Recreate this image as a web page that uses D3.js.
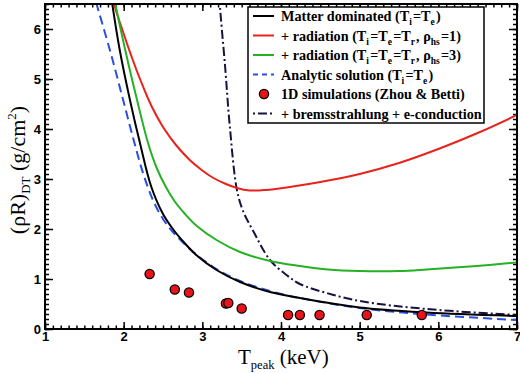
<!DOCTYPE html>
<html>
<head>
<meta charset="utf-8">
<script src="https://cdn.jsdelivr.net/npm/d3@7"></script>
<style>
  body { margin: 0; background: #fff; }
  svg { display: block; font-family: 'Liberation Serif', 'Times New Roman', serif; }
  .axis text { font-size: 13px; font-weight: bold; fill: #000; }
  .axis path { display: none; }
  .axis line { stroke: #000; stroke-width: 1.5; }
  .legend text { font-size: 14.2px; font-weight: bold; }
</style>
</head>
<body>
<svg id="chart"></svg>
<script>
// values: [T_peak (keV), rhoR (g/cm^2)]
const matterDominated = [[1.80, 7.1], [1.85, 6.55], [1.95, 5.58], [2.08, 4.58], [2.21, 3.7], [2.35, 2.85],
  [2.5, 2.3], [2.64, 1.97], [2.78, 1.71], [2.93, 1.47], [3.18, 1.18], [3.48, 0.94], [3.86, 0.74],
  [4.24, 0.62], [5.0, 0.43], [5.85, 0.33], [7.0, 0.26]];
const radiationHs1 = [[1.84, 6.9], [1.87, 6.55], [1.98, 6.0], [2.1, 5.45], [2.22, 4.95], [2.35, 4.47],
  [2.5, 4.04], [2.67, 3.67], [2.84, 3.38], [3.0, 3.17], [3.13, 3.03], [3.3, 2.9], [3.44, 2.82],
  [3.6, 2.77], [3.8, 2.78], [4.15, 2.85], [4.5, 2.94], [5.0, 3.1], [5.5, 3.32], [6.0, 3.6],
  [6.5, 3.92], [7.0, 4.28]];
const radiationHs3 = [[1.85, 7.0], [1.89, 6.55], [2.02, 5.58], [2.17, 4.58], [2.31, 3.72], [2.42, 3.22],
  [2.53, 2.86], [2.65, 2.55], [2.78, 2.3], [2.93, 2.06], [3.18, 1.78], [3.48, 1.54], [3.86, 1.36],
  [4.24, 1.26], [4.6, 1.19], [5.0, 1.16], [5.5, 1.16], [5.85, 1.19], [6.4, 1.25], [7.0, 1.33]];
const analytic = [[1.60, 6.8], [1.64, 6.58], [1.83, 5.55], [1.99, 4.6], [2.12, 3.82], [2.25, 3.1],
  [2.38, 2.55], [2.5, 2.2], [2.62, 1.95], [2.76, 1.72], [2.93, 1.48], [3.18, 1.2], [3.48, 0.96],
  [3.86, 0.76], [4.24, 0.62], [5.0, 0.42], [5.85, 0.29], [7.0, 0.18]];
const bremsConduction = [[3.21, 7.0], [3.22, 6.55], [3.29, 5.24], [3.35, 4.04], [3.44, 2.78], [3.52, 2.35],
  [3.64, 1.98], [3.86, 1.38], [4.07, 1.08], [4.24, 0.9], [4.58, 0.72], [5.0, 0.56], [5.85, 0.4], [7.0, 0.28]];
const simulations = [[2.33, 1.10], [2.65, 0.79], [2.83, 0.73], [3.30, 0.51], [3.33, 0.52], [3.50, 0.41],
  [4.09, 0.28], [4.24, 0.28], [4.49, 0.28], [5.09, 0.28], [5.79, 0.28]];

const xTicks = [1, 2, 3, 4, 5, 6, 7];
const yTicks = [0, 1, 2, 3, 4, 5, 6];

const W = 520, H = 373;
const margin = { top: 4, right: 3, bottom: 44, left: 45 };

const svg = d3.select('#chart').attr('width', W).attr('height', H);

const x = d3.scaleLinear().domain([1, 7]).range([margin.left, W - margin.right]);
const y = d3.scaleLinear().domain([0, 6.5]).range([H - margin.bottom, margin.top]);

const minorX = d3.range(1, 7.001, 0.1);
const minorY = d3.range(0, 6.501, 0.1);

// clip
svg.append('clipPath').attr('id', 'plot-clip')
  .append('rect')
  .attr('x', x(1)).attr('y', y(6.5))
  .attr('width', x(7) - x(1)).attr('height', y(0) - y(6.5));

// axes (ticks point inward on all four sides)
const addAxis = (axis, tx, ty) => svg.append('g')
  .attr('class', 'axis')
  .attr('transform', `translate(${tx},${ty})`)
  .call(axis);

addAxis(d3.axisBottom(x).tickValues(minorX).tickSize(-3.5).tickFormat(''), 0, y(0));
addAxis(d3.axisBottom(x).tickValues(xTicks).tickSize(-7).tickPadding(3).tickFormat(d3.format('d')), 0, y(0));
addAxis(d3.axisTop(x).tickValues(minorX).tickSize(-3.5).tickFormat(''), 0, y(6.5));
addAxis(d3.axisTop(x).tickValues(xTicks).tickSize(-7).tickFormat(''), 0, y(6.5));
addAxis(d3.axisLeft(y).tickValues(minorY).tickSize(-4).tickFormat(''), x(1), 0);
addAxis(d3.axisLeft(y).tickValues(yTicks).tickSize(-8).tickPadding(4).tickFormat(d3.format('d')), x(1), 0);
addAxis(d3.axisRight(y).tickValues(minorY).tickSize(-4).tickFormat(''), x(7), 0);
addAxis(d3.axisRight(y).tickValues(yTicks).tickSize(-8).tickFormat(''), x(7), 0);

// curves
const line = d3.line().x((d) => x(d[0])).y((d) => y(d[1])).curve(d3.curveCatmullRom.alpha(0.5));

const series = [
  { data: bremsConduction, color: '#1b1140', dash: '9,3,2,3' },
  { data: radiationHs1, color: '#e8231c', dash: null },
  { data: radiationHs3, color: '#25b025', dash: null },
  { data: analytic, color: '#2b4fe0', dash: '9,5' },
  { data: matterDominated, color: '#000', dash: null },
];

const plot = svg.append('g').attr('clip-path', 'url(#plot-clip)');

plot.selectAll('path.curve')
  .data(series)
  .join('path')
  .attr('class', 'curve')
  .attr('d', (d) => line(d.data))
  .attr('fill', 'none')
  .attr('stroke', (d) => d.color)
  .attr('stroke-width', 2)
  .attr('stroke-dasharray', (d) => d.dash);

plot.selectAll('circle.sim')
  .data(simulations)
  .join('circle')
  .attr('class', 'sim')
  .attr('cx', (d) => x(d[0]))
  .attr('cy', (d) => y(d[1]))
  .attr('r', 4.6)
  .attr('fill', '#e8141a')
  .attr('stroke', '#000')
  .attr('stroke-width', 1.3);

// frame
svg.append('rect')
  .attr('x', x(1)).attr('y', y(6.5))
  .attr('width', x(7) - x(1)).attr('height', y(0) - y(6.5))
  .attr('fill', 'none').attr('stroke', '#000').attr('stroke-width', 2);

// legend
const legend = svg.append('g').attr('class', 'legend');
legend.append('rect')
  .attr('x', 248).attr('y', 7).attr('width', 236).attr('height', 116)
  .attr('fill', '#fff').attr('stroke', '#000').attr('stroke-width', 1.5);

const sub = (t) => ({ t, sub: true });
const legendItems = [
  { color: '#000', dash: null, parts: ['Matter dominated (T', sub('i'), '=T', sub('e'), ')'] },
  { color: '#e8231c', dash: null, parts: ['+ radiation (T', sub('i'), '=T', sub('e'), '=T', sub('r'), ', \u03c1', sub('hs'), '=1)'] },
  { color: '#25b025', dash: null, parts: ['+ radiation (T', sub('i'), '=T', sub('e'), '=T', sub('r'), ', \u03c1', sub('hs'), '=3)'] },
  { color: '#2b4fe0', dash: '5,4', parts: ['Analytic solution (T', sub('i'), '=T', sub('e'), ')'] },
  { marker: true, parts: ['1D simulations (Zhou & Betti)'] },
  { color: '#1b1140', dash: '2,3,9,3', parts: ['+ bremsstrahlung + e-conduction'] },
];

legendItems.forEach((item, i) => {
  const ly = 16 + i * 19.5;
  if (item.marker) {
    legend.append('circle')
      .attr('cx', 264).attr('cy', ly).attr('r', 4.6)
      .attr('fill', '#e8141a').attr('stroke', '#000').attr('stroke-width', 1.3);
  } else {
    legend.append('line')
      .attr('x1', 253).attr('x2', 274).attr('y1', ly).attr('y2', ly)
      .attr('stroke', item.color).attr('stroke-width', 2)
      .attr('stroke-dasharray', item.dash);
  }
  const txt = legend.append('text').attr('x', 281).attr('y', ly + 5);
  item.parts.forEach((p) => {
    if (typeof p === 'string') {
      txt.append('tspan').text(p);
    } else {
      txt.append('tspan').attr('dy', 4).attr('font-size', '9.5px').text(p.t);
      txt.append('tspan').attr('dy', -4).text('\u200a');
    }
  });
});

// axis titles
const xt = svg.append('text').attr('x', 238).attr('y', 364).attr('font-size', '21px');
xt.append('tspan').text('T');
xt.append('tspan').attr('dy', 5).attr('font-size', '12.5px').text('peak');
xt.append('tspan').attr('dy', -5).text(' (keV)');

const yt = svg.append('text')
  .attr('transform', 'translate(25,170) rotate(-90)')
  .attr('text-anchor', 'middle')
  .attr('font-size', '22px');
yt.append('tspan').text('(\u03c1R)');
yt.append('tspan').attr('dy', 5).attr('font-size', '13px').text('DT');
yt.append('tspan').attr('dy', -5).text(' (g/cm');
yt.append('tspan').attr('dy', -9).attr('font-size', '13px').text('2');
yt.append('tspan').attr('dy', 9).text(')');
</script>
</body>
</html>
